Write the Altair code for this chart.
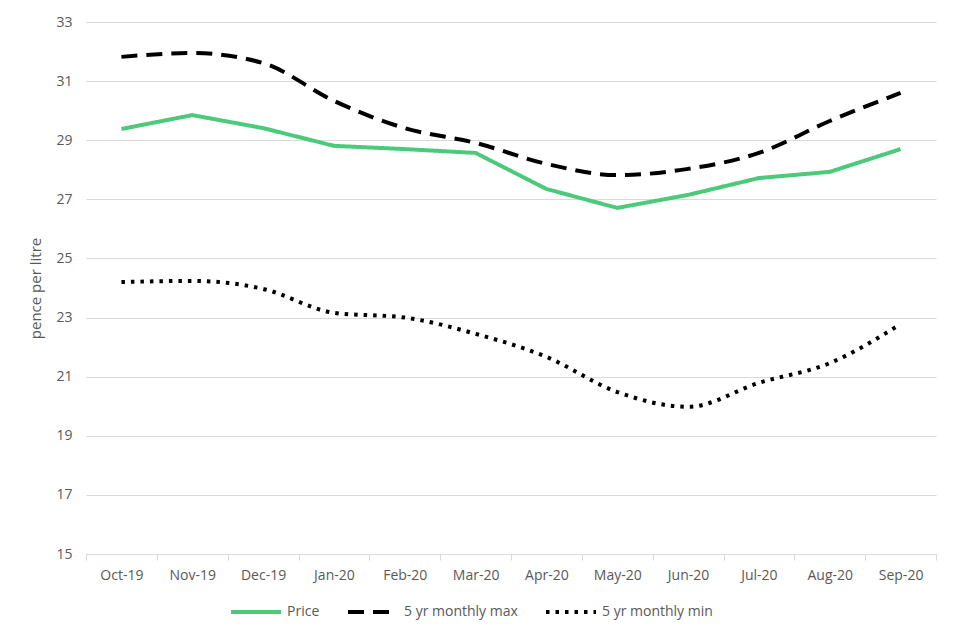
import altair as alt
import pandas as pd

months = ["Oct-19", "Nov-19", "Dec-19", "Jan-20", "Feb-20", "Mar-20",
          "Apr-20", "May-20", "Jun-20", "Jul-20", "Aug-20", "Sep-20"]
price = [29.38, 29.85, 29.41, 28.81, 28.70, 28.57, 27.35, 26.71, 27.15, 27.72, 27.93, 28.70]
max5 = [31.82, 31.95, 31.61, 30.33, 29.41, 28.91, 28.20, 27.82, 28.03, 28.57, 29.65, 30.60]
min5 = [24.20, 24.24, 23.97, 23.16, 23.00, 22.45, 21.67, 20.48, 19.98, 20.79, 21.46, 22.78]
series = ["Price", "5 yr monthly max", "5 yr monthly min"]

rows = []
for name, vals in zip(series, [price, max5, min5]):
    for m, v in zip(months, vals):
        rows.append({"month": m, "value": v, "series": name})
df = pd.DataFrame(rows)

font = "Open Sans"
gray = "#595959"

x = alt.X("month:N", sort=months, title=None,
          scale=alt.Scale(type="band", paddingInner=0, paddingOuter=0),
          axis=alt.Axis(tickBand="extent", grid=False, domainColor="#d9d9d9",
                        tickColor="#d9d9d9", tickSize=6, labelAngle=0,
                        labelPadding=8, labelFontSize=14, labelColor=gray,
                        labelFont=font))
y = alt.Y("value:Q", title="pence per litre",
          scale=alt.Scale(domain=[15, 33], nice=False, zero=False),
          axis=alt.Axis(values=list(range(15, 34, 2)), domain=False, ticks=False,
                        gridColor="#d9d9d9", labelFontSize=14, labelColor=gray,
                        labelFont=font, labelPadding=14, titleFontSize=15,
                        titleColor=gray, titleFont=font, titleFontWeight="normal",
                        titlePadding=12))

color = alt.Color("series:N", sort=series, title=None,
                  scale=alt.Scale(domain=series, range=["#4CC97A", "#000000", "#000000"]),
                  legend=alt.Legend(orient="none", legendX=143, legendY=563,
                                    direction="horizontal",
                                    symbolType="stroke", symbolSize=2500,
                                    symbolStrokeWidth=4, labelFontSize=14,
                                    labelColor=gray, labelFont=font,
                                    columnPadding=20, labelOffset=4))
dash = alt.StrokeDash("series:N", sort=series, title=None,
                      scale=alt.Scale(domain=series, range=[[1, 0], [16, 9], [3.5, 6]]))

base = alt.Chart(df)
price_line = base.transform_filter(alt.datum.series == "Price").mark_line(
    strokeWidth=4).encode(x=x, y=y, color=color, strokeDash=dash)
other_lines = base.transform_filter(alt.datum.series != "Price").mark_line(
    strokeWidth=4, interpolate="monotone").encode(
    x=x, y=y, color=color, strokeDash=dash)

chart = alt.layer(other_lines, price_line).properties(
    width=850, height=532,
    padding={"left": 20, "top": 7, "right": 10, "bottom": 5},
    background="white",
).configure_view(stroke=None)

chart.save("out.html", embed_options={"renderer": "svg", "actions": False})
